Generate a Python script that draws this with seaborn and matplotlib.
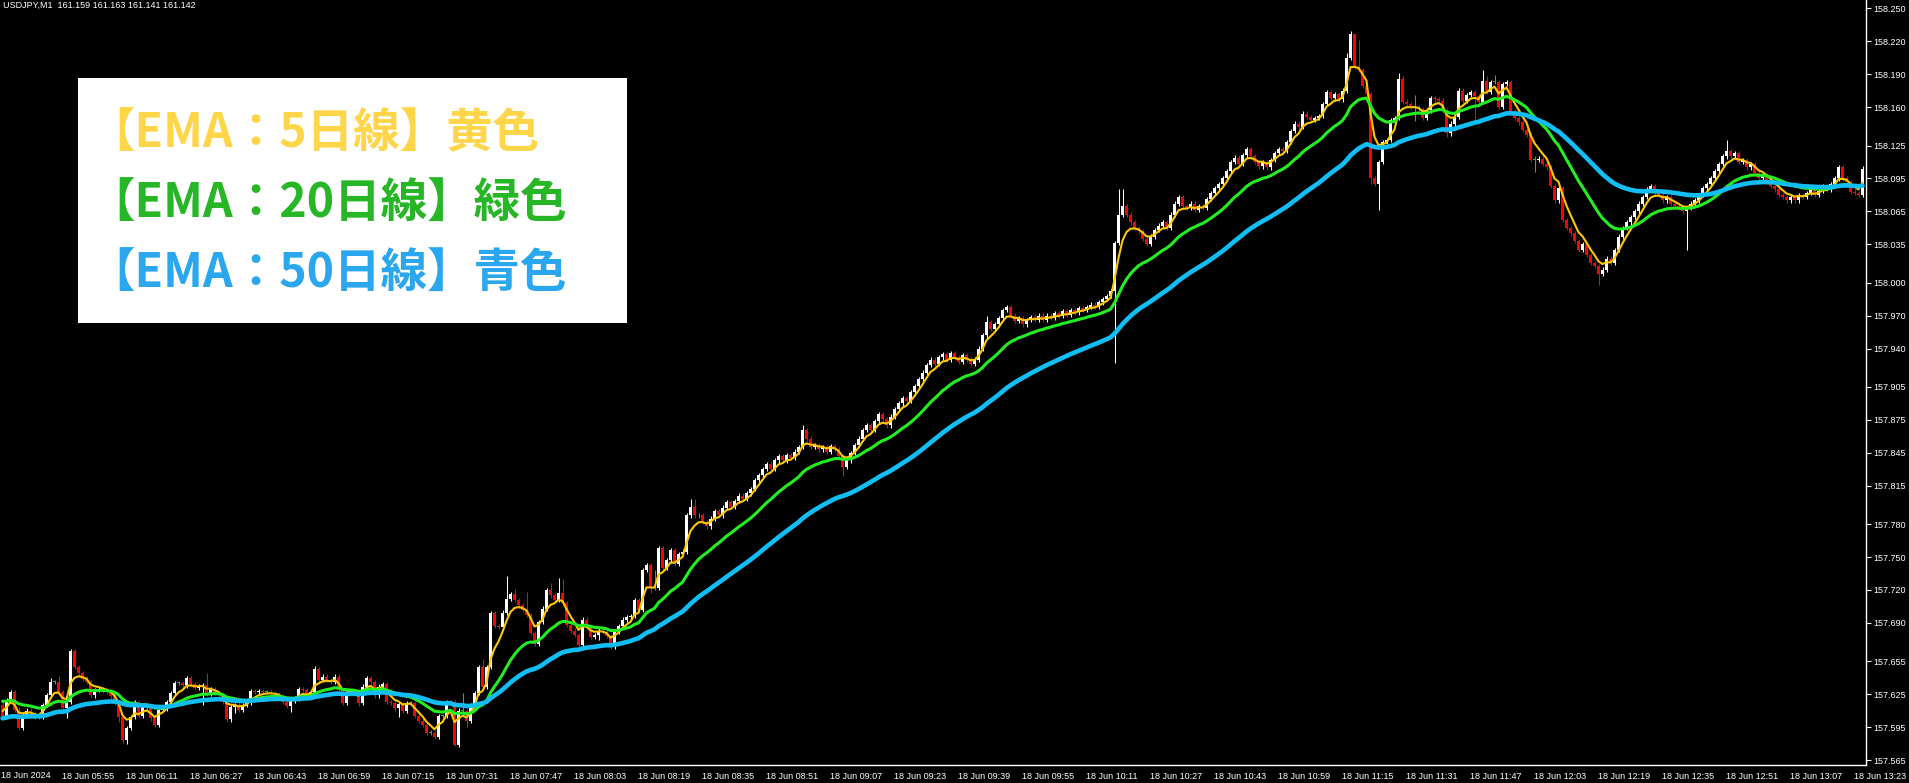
import numpy as np
import pandas as pd
import matplotlib
matplotlib.use("Agg")
import matplotlib.pyplot as plt
import seaborn as sns

# chart header and time of first bar (1 minute bars)
symbol_text = "USDJPY,M1  161.159 161.163 161.141 161.142"
first_bar_time = "2024-06-18 05:40"

# prices in 0.001 steps above 157.000
price_base = 157.0
open_first = 615
closes = [
    605, 620, 627, 611, 594, 606, 610, 608, 604, 604,
    615, 624, 636, 636, 627, 612, 618, 664, 650, 644,
    639, 636, 624, 629, 630, 628, 627, 623, 617, 604,
    583, 594, 604, 618, 605, 613, 613, 603, 597, 611,
    612, 618, 626, 635, 635, 633, 640, 634, 631, 632,
    633, 625, 630, 626, 624, 618, 602, 613, 615, 611,
    615, 617, 628, 627, 628, 627, 627, 626, 625, 623,
    618, 614, 619, 621, 630, 629, 624, 627, 648, 638,
    641, 638, 636, 641, 629, 617, 627, 626, 626, 617,
    632, 640, 636, 624, 632, 634, 618, 617, 612, 616,
    610, 617, 617, 605, 601, 597, 590, 590, 586, 605,
    605, 618, 618, 579, 610, 610, 601, 615, 626, 650,
    632, 650, 699, 687, 686, 699, 712, 716, 711, 706,
    702, 697, 681, 671, 691, 703, 720, 715, 711, 717,
    708, 688, 683, 679, 670, 693, 686, 677, 679, 683,
    682, 678, 668, 682, 687, 693, 695, 696, 711, 702,
    738, 743, 722, 722, 758, 740, 747, 756, 744, 753,
    755, 788, 796, 788, 788, 782, 778, 785, 792, 788,
    795, 800, 796, 801, 806, 803, 808, 812, 820, 825,
    830, 835, 830, 838, 842, 838, 843, 840, 846, 850,
    866, 858, 850, 852, 848, 850, 846, 851, 848, 842,
    832, 838, 845, 852, 858, 866, 870, 866, 874, 880,
    876, 870, 878, 885, 890, 895, 892, 900, 906, 912,
    918, 925, 930, 926, 932, 935, 930, 936, 932, 928,
    934, 930, 926, 930, 940, 952, 964, 958, 962, 968,
    975, 978, 970, 965, 968, 962, 966, 969, 966, 970,
    966, 970, 968, 972, 970, 974, 971, 975, 973, 977,
    975, 978, 980, 978, 982, 985, 988, 992, 1036, 1062,
    1070, 1062, 1055, 1050, 1047, 1040, 1035, 1042, 1048, 1052,
    1055, 1050, 1062, 1072, 1078, 1070, 1068, 1072, 1066, 1070,
    1068, 1076, 1082, 1086, 1090, 1095, 1102, 1110, 1114, 1108,
    1116, 1122, 1115, 1110, 1106, 1110, 1105, 1112, 1118, 1122,
    1120, 1128, 1138, 1145, 1142, 1154, 1151, 1148, 1150, 1152,
    1163, 1174, 1168, 1172, 1167, 1175, 1205, 1227, 1197, 1194,
    1179, 1172, 1095, 1090, 1110, 1128, 1130, 1148, 1150, 1186,
    1165, 1163, 1160, 1160, 1158, 1150, 1157, 1168, 1167, 1166,
    1157, 1136, 1145, 1151, 1175, 1166, 1171, 1174, 1170, 1165,
    1184, 1174, 1183, 1183, 1160, 1181, 1183, 1156, 1150, 1146,
    1139, 1135, 1112, 1112, 1113, 1108, 1105, 1088, 1075, 1086,
    1057, 1050, 1045, 1038, 1030, 1035, 1025, 1018, 1015, 1008,
    1012, 1022, 1018, 1030, 1042, 1050, 1055, 1060, 1065, 1072,
    1078, 1085, 1088, 1082, 1080, 1075, 1078, 1072, 1070, 1068,
    1065, 1068, 1072, 1075, 1080, 1086, 1090, 1095, 1102, 1108,
    1115, 1120, 1115, 1118, 1110, 1112, 1105, 1108, 1100, 1095,
    1098, 1092, 1088, 1085, 1080, 1078, 1075, 1078, 1075, 1080,
    1078, 1082, 1085, 1080, 1084, 1088, 1085, 1090, 1095, 1105,
    1095, 1092, 1083, 1082, 1080, 1104,
]

# typical wick length, plus the long wicks that stand out
base_wick = 2
wick_hi = {0: 5, 12: 4, 14: 6, 21: 3, 51: 11, 78: 3, 115: 16, 120: 7,
           125: 3, 126: 21, 128: 5, 131: 16, 137: 6, 139: 14, 140: 13,
           163: 16, 172: 7, 173: 7, 200: 4, 246: 6, 279: 23, 280: 15,
           336: 4, 338: 0, 339: 24, 349: 5, 353: 11, 370: 10, 371: 4,
           373: 6, 383: 3, 431: 10}
wick_lo = {16: 9, 29: 4, 31: 3, 50: 17, 58: 5, 72: 5, 89: 3, 99: 8,
           113: 1, 116: 6, 149: 5, 162: 5, 210: 8, 278: 65, 342: 5,
           344: 24, 353: 13, 361: 3, 368: 23, 383: 11, 399: 10, 421: 35}

# moving averages: period, value just before the first bar, colour, width
ema_periods = [5, 20, 50]
ema_seeds = [612, 620, 603]
ema_colors = ["#FFC800", "#22EE22", "#10BDF5"]
ema_widths = [1.5, 2.2, 3.3]

ytick_values = [157.565, 157.595, 157.625, 157.655, 157.690, 157.720,
                157.750, 157.780, 157.815, 157.845, 157.875, 157.905,
                157.940, 157.970, 158.000, 158.035, 158.065, 158.095,
                158.125, 158.160, 158.190, 158.220, 158.250]

legend_lines = ["【EMA：5日線】黄色", "【EMA：20日線】緑色", "【EMA：50日線】青色"]
legend_colors = ["#FFD54A", "#26B626", "#2AA7EE"]

# build the bar table
df = pd.DataFrame({"bar": np.arange(len(closes)), "c": closes})
df["o"] = [open_first] + closes[:-1]
df["hi"] = df[["o", "c"]].max(axis=1) + [wick_hi.get(i, base_wick) for i in df["bar"]]
df["lo"] = df[["o", "c"]].min(axis=1) - [wick_lo.get(i, base_wick) for i in df["bar"]]
for col in ["o", "c", "hi", "lo"]:
    df[col] = price_base + df[col] / 1000.0

for n, seed in zip(ema_periods, ema_seeds):
    alpha = 2.0 / (n + 1)
    e = price_base + seed / 1000.0
    vals = []
    for c in df["c"]:
        e = alpha * c + (1 - alpha) * e
        vals.append(e)
    df[f"ema{n}"] = vals

df["color"] = np.where(df["c"] > df["o"], "#FFFFFF",
                       np.where(df["c"] < df["o"], "#FF0000", "#22C022"))

sns.set_style("dark", {"axes.facecolor": "black", "figure.facecolor": "black"})
plt.rcParams["font.family"] = ["Liberation Sans", "DejaVu Sans"]

W, H = 1909, 783
fig = plt.figure(figsize=(W / 100, H / 100), dpi=100)
fig.patch.set_facecolor("black")
ax = fig.add_axes([0, 1 - 765 / H, 1866 / W, 765 / H])
ax.set_facecolor("black")

# candles
ax.vlines(df["bar"], df["lo"], df["hi"], colors=df["color"], lw=0.75, zorder=2)
body_h = np.maximum((df["c"] - df["o"]).abs(), 0.0007)
ax.bar(df["bar"], body_h, bottom=df[["o", "c"]].min(axis=1), width=0.7,
       color=df["color"], linewidth=0, zorder=3)

# EMA lines on top
for n, col, lw in zip(ema_periods, ema_colors, ema_widths):
    sns.lineplot(data=df, x="bar", y=f"ema{n}", color=col, lw=lw, ax=ax, zorder=4)

ax.set_xlim(-0.625, 465.875)
ax.set_ylim(157.5605, 158.2576)
ax.set_xlabel("")
ax.set_ylabel("")
ax.grid(False)

for side in ["top", "left"]:
    ax.spines[side].set_visible(False)
for side in ["right", "bottom"]:
    ax.spines[side].set_visible(True)
    ax.spines[side].set_color("white")
    ax.spines[side].set_linewidth(1.0)

ax.yaxis.tick_right()
ax.set_yticks(ytick_values)
ax.set_yticklabels([f"{v:.3f}" for v in ytick_values])

t0 = pd.Timestamp(first_bar_time)
xt = list(range(15, len(closes), 16))
ax.set_xticks(xt)
ax.set_xticklabels([(t0 + pd.Timedelta(minutes=i)).strftime("18 Jun %H:%M") for i in xt])
for lab in ax.get_xticklabels():
    lab.set_ha("left")

ax.tick_params(axis="both", colors="white", labelcolor="white", labelsize=6.5,
               direction="out", length=3.5, width=0.8, pad=1.5)

fig.text(1 / W, 1 - 775 / H, "18 Jun 2024", color="white", fontsize=6.5,
         va="center", ha="left")
fig.text(3 / W, 1 - 5 / H, symbol_text, color="white", fontsize=6.5,
         va="center", ha="left")

# legend box
box = plt.Rectangle((78 / W, 1 - 323 / H), 549 / W, 245 / H,
                    transform=fig.transFigure, facecolor="white",
                    edgecolor="none", zorder=5)
fig.patches.append(box)
for k, (txt, col) in enumerate(zip(legend_lines, legend_colors)):
    fig.text(88 / W, 1 - (133 + 70.5 * k) / H, txt, color=col, fontsize=33.5,
             fontweight="bold", va="center", ha="left", zorder=6,
             family=["Noto Sans CJK JP", "DejaVu Sans"])

fig.savefig("out.png", dpi=100, facecolor="black")
